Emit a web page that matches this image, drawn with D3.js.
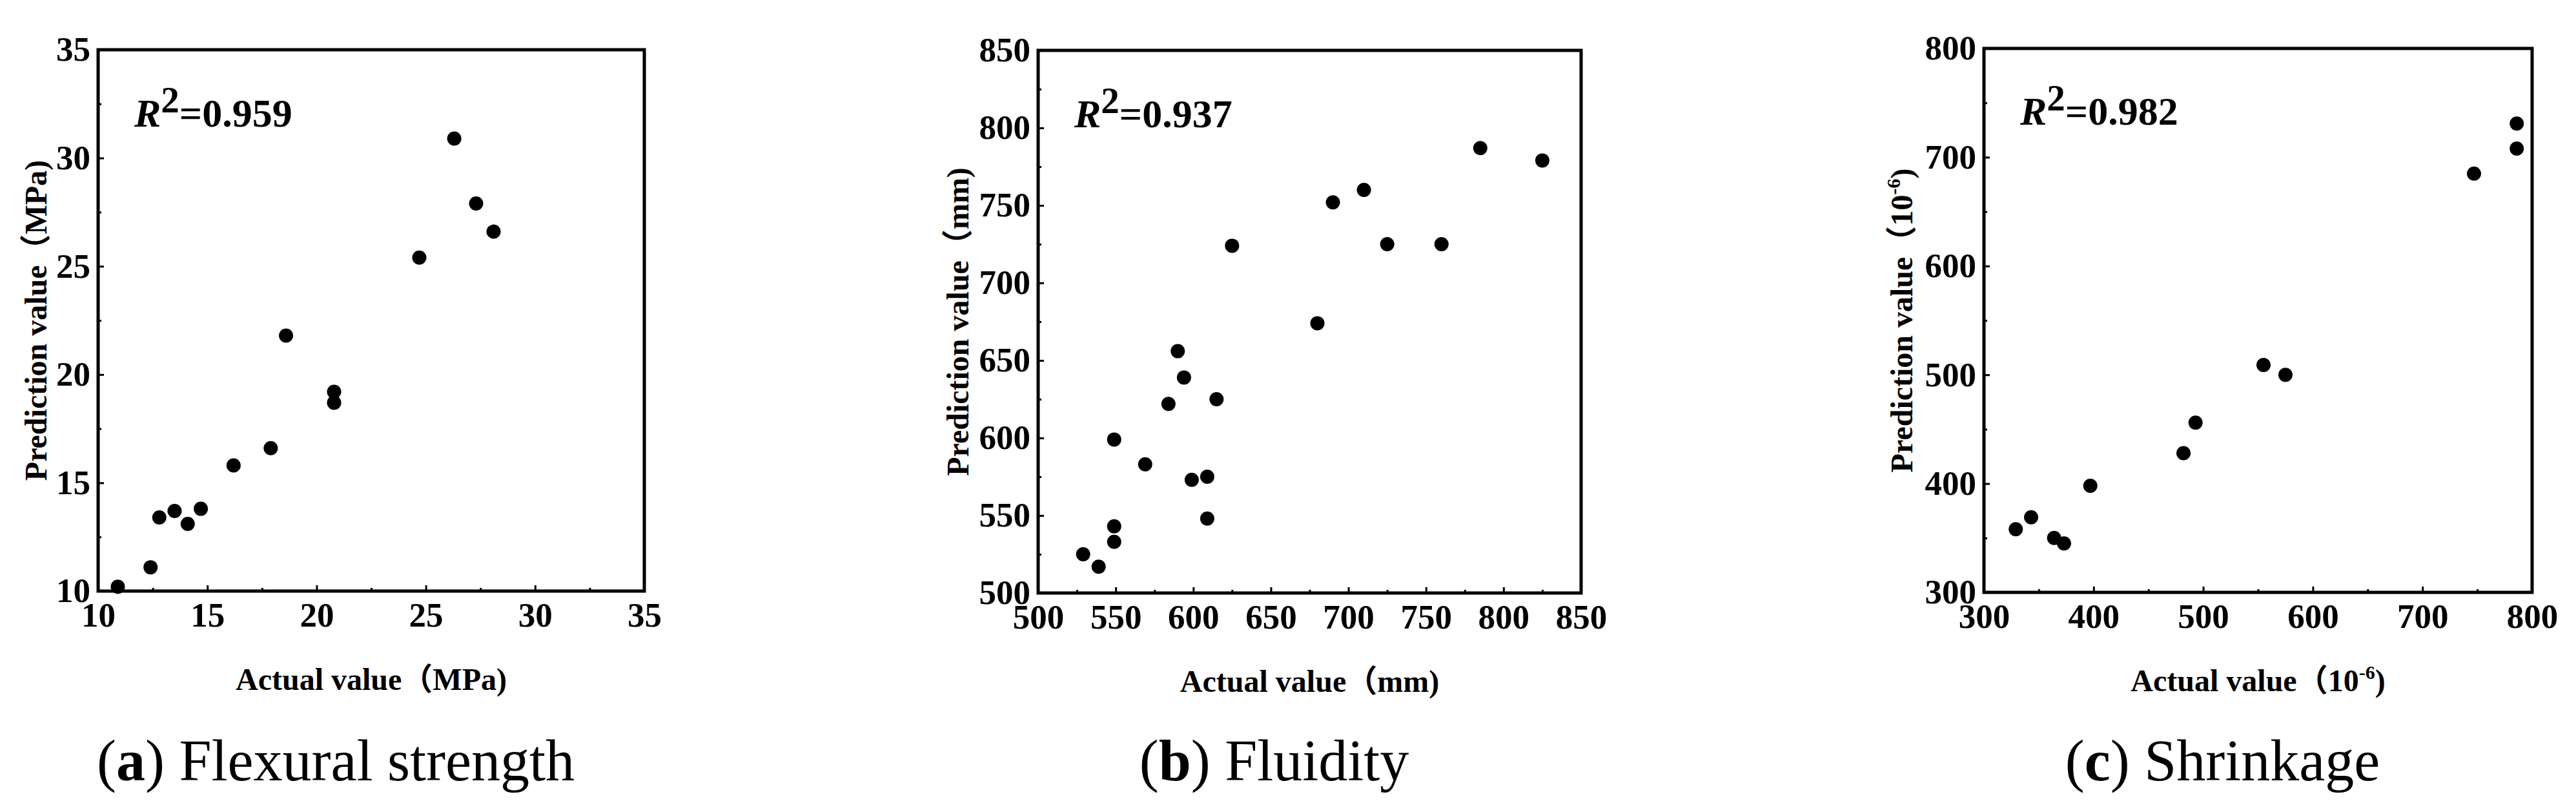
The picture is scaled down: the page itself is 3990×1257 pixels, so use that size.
<!DOCTYPE html>
<html>
<head>
<meta charset="utf-8">
<script src="https://cdn.jsdelivr.net/npm/d3@7"></script>
<style>
  body { margin: 0; background: #fff; }
  svg text { font-family: "Liberation Serif", "Times New Roman", "Noto Sans CJK SC", serif; fill: #000; }
</style>
</head>
<body>
<svg id="chart" width="3990" height="1257"></svg>
<script>
// --- Values
const flexActual = [10.9, 12.4, 12.8, 13.5, 14.1, 14.7, 16.2, 17.9, 18.6, 20.8, 20.8, 24.7, 26.3, 27.3, 28.1];
const flexPred   = [10.2, 11.1, 13.4, 13.7, 13.1, 13.8, 15.8, 16.6, 21.8, 18.7, 19.2, 25.4, 30.9, 27.9, 26.6];

const fluidActual = [529, 539, 549, 549, 549, 569, 584, 590, 594, 599, 609, 609, 615, 625, 680, 690, 710, 725, 760, 785, 825];
const fluidPred   = [525, 517, 543, 533, 599, 583, 622, 656, 639, 573, 575, 548, 625, 724, 674, 752, 760, 725, 725, 787, 779];

const shrinkActual = [329, 343, 364, 373, 397, 482, 493, 555, 575, 747, 786, 786];
const shrinkPred   = [358, 369, 350, 345, 398, 428, 456, 509, 500, 685, 708, 731];

const flexTicks = [10, 15, 20, 25, 30, 35];
const flexMinor = [12.5, 17.5, 22.5, 27.5, 32.5];
const fluidTicks = [500, 550, 600, 650, 700, 750, 800, 850];
const fluidMinor = [525, 575, 625, 675, 725, 775, 825];
const shrinkTicks = [300, 400, 500, 600, 700, 800];
const shrinkMinor = [350, 450, 550, 650, 750];

const r2Values = ["0.959", "0.937", "0.982"];
const captionLetters = ["a", "b", "c"];
const captionNames = [" Flexural strength", " Fluidity", " Shrinkage"];
const unitLabels = ["MPa", "mm", "10"];

// --- Panel table
const panels = [
  { xs: flexActual, ys: flexPred, ticks: flexTicks, minor: flexMinor,
    frame: { x0: 152, x1: 998, y0: 77, y1: 915 }, yTitleOff: -80, r2y: 196 },
  { xs: fluidActual, ys: fluidPred, ticks: fluidTicks, minor: fluidMinor,
    frame: { x0: 1608, x1: 2449, y0: 78, y1: 918 }, yTitleOff: -108, r2y: 197 },
  { xs: shrinkActual, ys: shrinkPred, ticks: shrinkTicks, minor: shrinkMinor,
    frame: { x0: 3073, x1: 3922, y0: 75, y1: 917 }, yTitleOff: -111, r2y: 193 }
];

const svg = d3.select("#chart");

panels.forEach((p, i) => {
  const f = p.frame;
  const dom = d3.extent(p.ticks);
  const x = d3.scaleLinear().domain(dom).range([f.x0, f.x1]);
  const y = d3.scaleLinear().domain(dom).range([f.y1, f.y0]);
  const g = svg.append("g");

  // --- Axes (ticks point inward)
  const bottom = g.append("g").attr("transform", `translate(0,${f.y1})`)
    .call(d3.axisBottom(x).tickValues(p.ticks).tickSize(-9).tickPadding(17).tickFormat(d3.format("d")));
  const bottomMinor = g.append("g").attr("transform", `translate(0,${f.y1})`)
    .call(d3.axisBottom(x).tickValues(p.minor).tickSize(-5).tickFormat(""));
  const left = g.append("g").attr("transform", `translate(${f.x0},0)`)
    .call(d3.axisLeft(y).tickValues(p.ticks).tickSize(-9).tickPadding(12).tickFormat(d3.format("d")));
  const leftMinor = g.append("g").attr("transform", `translate(${f.x0},0)`)
    .call(d3.axisLeft(y).tickValues(p.minor).tickSize(-5).tickFormat(""));

  [bottom, bottomMinor, left, leftMinor].forEach(a => {
    a.select(".domain").remove();
    a.selectAll("line").attr("stroke", "#000").attr("stroke-width", 3);
    a.selectAll("text")
      .style("font-family", '"Liberation Serif", "Times New Roman", serif')
      .style("font-size", "53px")
      .style("font-weight", "bold")
      .attr("fill", "#000");
  });

  // --- Frame
  g.append("rect")
    .attr("x", f.x0).attr("y", f.y0)
    .attr("width", f.x1 - f.x0).attr("height", f.y1 - f.y0)
    .attr("fill", "none").attr("stroke", "#000").attr("stroke-width", 5);

  // --- Points
  g.selectAll(".pt")
    .data(p.xs.map((v, k) => [v, p.ys[k]]))
    .enter()
    .append("circle")
    .attr("class", "pt")
    .attr("cx", d => x(d[0]))
    .attr("cy", d => y(d[1]))
    .attr("r", 11)
    .attr("fill", "#000");

  // --- R^2 label
  const r2 = g.append("text")
    .attr("x", f.x0 + 56).attr("y", p.r2y)
    .style("font-size", "62px").style("font-weight", "bold");
  r2.append("tspan").style("font-style", "italic").text("R");
  r2.append("tspan").attr("dy", -22).style("font-size", "57px").text("2");
  r2.append("tspan").attr("dy", 22).text("=" + r2Values[i]);

  const cx = (f.x0 + f.x1) / 2;
  const cy = (f.y0 + f.y1) / 2;

  // --- Axis titles
  const xt = g.append("text")
    .attr("x", cx).attr("y", f.y1 + 153)
    .attr("text-anchor", "middle")
    .style("font-size", "48px").style("font-weight", "bold");
  xt.append("tspan").text("Actual value（" + unitLabels[i]);
  if (i === 2) xt.append("tspan").attr("dy", -19).style("font-size", "30px").text("-6");
  xt.append("tspan").attr("dy", i === 2 ? 19 : 0).text(")");

  const yt = g.append("text")
    .attr("transform", `translate(${f.x0 + p.yTitleOff},${cy}) rotate(-90)`)
    .attr("text-anchor", "middle")
    .style("font-size", "48px").style("font-weight", "bold");
  yt.append("tspan").text("Prediction value（" + unitLabels[i]);
  if (i === 2) yt.append("tspan").attr("dy", -19).style("font-size", "30px").text("-6");
  yt.append("tspan").attr("dy", i === 2 ? 19 : 0).text(")");

  // --- Caption
  const cap = g.append("text")
    .attr("x", cx - 55).attr("y", 1208)
    .attr("text-anchor", "middle")
    .style("font-family", '"Palatino Linotype", "Book Antiqua", Palatino, "Liberation Serif", serif')
    .style("font-size", "90px");
  cap.append("tspan").text("(");
  cap.append("tspan").style("font-weight", "bold").text(captionLetters[i]);
  cap.append("tspan").text(")" + captionNames[i]);
});
</script>
</body>
</html>
